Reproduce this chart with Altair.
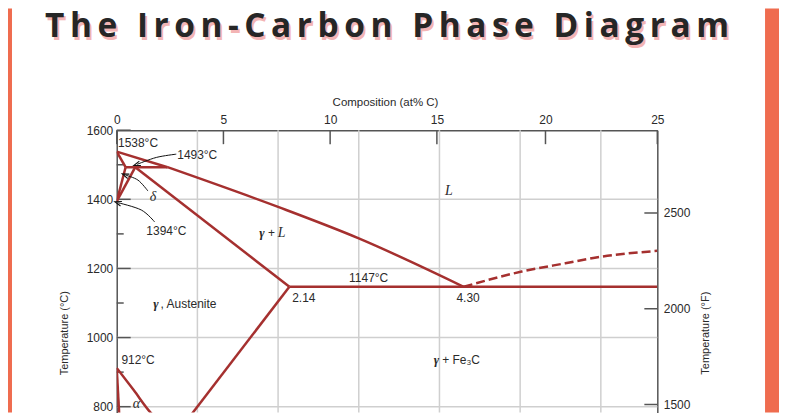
import math
import altair as alt
import pandas as pd

# ---------------- data (wt% C, temperature in deg C) ----------------
liquidus_wt = [0.63, 2.0, 3.0, 4.30]
liquidus_T = [1493, 1378, 1287, 1147]
liq_top_wt = [0.0, 0.63]
liq_top_T = [1538, 1493]
delta_liq_wt = [0.0, 0.11]
delta_liq_T = [1538, 1493]
peritectic_wt = [0.11, 0.63]
peritectic_T = [1493, 1493]
delta_low_wt = [0.0, 0.11]
delta_low_T = [1394, 1493]
gamma_up_wt = [0.0, 0.23]
gamma_up_T = [1394, 1493]
solidus_wt = [0.23, 2.14]
solidus_T = [1493, 1147]
eutectic_wt = [2.14, 6.7]
eutectic_T = [1147, 1147]
acm_wt = [0.76, 2.14]
acm_T = [727, 1147]
a3_wt = [0.0, 0.21, 0.42, 0.76]
a3_T = [912, 848, 783, 727]
alpha_wt = [0.0, 0.035]
alpha_T = [912, 760]
cem_wt = [4.30, 5.02, 5.56, 6.01, 6.7]
cem_T = [1147, 1191, 1215, 1234, 1251]

# axis tick values
T_major = [800, 1000, 1200, 1400, 1600]
T_minor = [900, 1100, 1300, 1500]
wt_grid = [1, 2, 3, 4, 5, 6]
at_labels = ["0", "5", "10", "15", "20", "25"]
at_pos_wt = [0.0, 1.3226, 2.645, 3.968, 5.314, 6.7]
F_ticks = [1500, 2000, 2500]

# annotations
num_text = ["1538°C", "1493°C", "1394°C", "1147°C", "2.14", "4.30", "912°C"]
num_wt = [0.016, 0.75, 0.367, 2.88, 2.175, 4.21, 0.058]
num_T = [1561.6, 1527.8, 1308.5, 1173.7, 1115, 1115, 934.2]

gamma_wt = [1.80, 0.487, 3.964]
gamma_T = [1301.9, 1097, 934.2]
sans_text = [", Austenite", "+ Fe\u2083C", "+"]
sans_wt = [0.544, 4.033, 1.874]
sans_T = [1097, 934.2, 1301.9]
ital_text = ["L", "L", "\u03b4", "\u03b1"]
ital_wt = [2.045, 4.116, 0.449, 0.2435]
ital_T = [1301.9, 1424, 1407.5, 806.4]

arrows = {
    "a1493": ([0.738, 0.491, 0.251], [1530.7, 1521.2, 1501.0]),
    "adelta": ([0.387, 0.263, 0.1075], [1424.0, 1455.7, 1470.1]),
    "a1394": ([0.470, 0.305, 0.016], [1334.5, 1369.1, 1390.2]),
}

TITLE = "The Iron-Carbon Phase Diagram"

# ---------------- layout ----------------
W, H = 542, 283
X_MAX = 6.7
T_TOP = 1600
T_BOT = 1600 - H * 200 / 69.3
F_TOP = 2932.3
F_BOT = F_TOP - H / 0.192

RED = "#a5302f"
AXC = "#555555"
GRID = "#cfcfcf"
TXT = "#2a2a2a"
ORANGE = "#ef6c4f"
SANS = "Liberation Sans"
SERIF = "Liberation Serif"

xs = alt.Scale(domain=[0, X_MAX], nice=False, zero=False)
ys = alt.Scale(domain=[T_BOT, T_TOP], nice=False, zero=False)

label_expr = (
    "indexof(" + str(at_pos_wt) + ", datum.value) >= 0 ? "
    + str(at_labels) + "[indexof(" + str(at_pos_wt) + ", datum.value)] : ''"
)

X_AXIS = alt.Axis(
    orient="top", values=at_pos_wt, labelExpr=label_expr, ticks=False, tickSize=0,
    grid=False, domainColor=AXC, domainWidth=1.5, labelFont=SANS, labelFontSize=12,
    labelColor=TXT, labelPadding=4, title="Composition (at% C)", titleFont=SANS,
    titleFontSize=11.5, titleFontWeight="normal", titleColor=TXT, titleX=269,
    titleY=-28, titleBaseline="middle", titleAlign="center", labelFlush=False,
)
Y_AXIS = alt.Axis(
    orient="left", values=T_major, format="d", ticks=False, tickSize=0, grid=False,
    domainColor=AXC, domainWidth=1.5, labelFont=SANS, labelFontSize=12,
    labelColor=TXT, labelPadding=4, title="Temperature (°C)", titleFont=SANS,
    titleFontSize=11, titleFontWeight="normal", titleColor=TXT, titleAngle=270,
    titleX=-52, titleY=203, titleAlign="center", titleBaseline="middle",
    labelFlush=False,
)


def X(field="wt"):
    return alt.X(f"{field}:Q", scale=xs, axis=X_AXIS)


def Y(field="T"):
    return alt.Y(f"{field}:Q", scale=ys, axis=Y_AXIS)


# grid lines
vgrid = alt.Chart(pd.DataFrame({"wt": wt_grid})).mark_rule(
    color=GRID, strokeWidth=1.5).encode(x=X(), y=alt.value(0), y2=alt.value(H))
hgrid = alt.Chart(pd.DataFrame({"T": T_major[:-1]})).mark_rule(
    color=GRID, strokeWidth=1.5).encode(y=Y(), x=alt.value(0), x2=alt.value(W))

# inward ticks
lt_major = alt.Chart(pd.DataFrame({"T": T_major})).mark_rule(
    color=AXC, strokeWidth=1.5).encode(y=Y(), x=alt.value(0), x2=alt.value(14))
lt_minor = alt.Chart(pd.DataFrame({"T": T_minor})).mark_rule(
    color=AXC, strokeWidth=1.5).encode(y=Y(), x=alt.value(0), x2=alt.value(7))
top_ticks = alt.Chart(pd.DataFrame({"wt": at_pos_wt})).mark_rule(
    color=AXC, strokeWidth=1.5).encode(x=X(), y=alt.value(0), y2=alt.value(14))

# phase boundaries (points ordered by increasing wt% for smooth curves)
segs = {
    "liq_top": (liq_top_wt, liq_top_T),
    "liquidus": (liquidus_wt, liquidus_T),
    "delta_liq": (delta_liq_wt, delta_liq_T),
    "peritectic": (peritectic_wt, peritectic_T),
    "delta_low": (delta_low_wt, delta_low_T),
    "gamma_up": (gamma_up_wt, gamma_up_T),
    "solidus": (solidus_wt, solidus_T),
    "eutectic": (eutectic_wt, eutectic_T),
    "acm": (acm_wt, acm_T),
    "a3": (a3_wt, a3_T),
    "alpha": (alpha_wt, alpha_T),
}
rows = []
for name, (ws, ts) in segs.items():
    for i, (w, t) in enumerate(zip(ws, ts)):
        rows.append({"seg": name, "wt": w, "T": t, "o": i})
seg_df = pd.DataFrame(rows)
lines = alt.Chart(seg_df).mark_line(
    color=RED, strokeWidth=2.5, clip=True, interpolate="monotone").encode(
    x=X(), y=Y(), detail="seg:N", order="o:Q")

cem_df = pd.DataFrame({"wt": cem_wt, "T": cem_T, "o": range(len(cem_wt))})
dashed = alt.Chart(cem_df).mark_line(
    color=RED, strokeWidth=2.5, strokeDash=[9, 4], interpolate="monotone",
    clip=True).encode(x=X(), y=Y(), order="o:Q")

# arrows


def to_px(w, t):
    return (w / X_MAX * W, (T_TOP - t) / (T_TOP - T_BOT) * H)


arow, hrow = [], []
for name, (ws, ts) in arrows.items():
    for i, (w, t) in enumerate(zip(ws, ts)):
        arow.append({"a": name, "wt": w, "T": t, "o": i})
    p1 = to_px(ws[-2], ts[-2])
    p2 = to_px(ws[-1], ts[-1])
    ang = math.degrees(math.atan2(p2[0] - p1[0], -(p2[1] - p1[1]))) % 360
    hrow.append({"wt": ws[-1], "T": ts[-1], "ang": ang})
arrow_lines = alt.Chart(pd.DataFrame(arow)).mark_line(
    color="#111", strokeWidth=1, interpolate="cardinal").encode(
    x=X(), y=Y(), detail="a:N", order="o:Q")
arrow_heads = alt.Chart(pd.DataFrame(hrow)).mark_point(
    shape="M -0.7 1 L 0 -1 L 0.7 1", filled=False, color="#111",
    strokeWidth=1.1, size=45, opacity=1).encode(
    x=X(), y=Y(), angle=alt.Angle("ang:Q", scale=None))

# labels
num_lab = alt.Chart(pd.DataFrame({"wt": num_wt, "T": num_T, "t": num_text})).mark_text(
    align="left", baseline="middle", font=SANS, fontSize=12, color=TXT).encode(
    x=X(), y=Y(), text="t:N")
gam_lab = alt.Chart(pd.DataFrame({"wt": gamma_wt, "T": gamma_T, "t": ["\u03b3"] * 3})).mark_text(
    align="center", baseline="middle", font=SERIF, fontSize=13,
    fontWeight="bold", fontStyle="italic", color=TXT).encode(x=X(), y=Y(), text="t:N")
sans_lab = alt.Chart(pd.DataFrame({"wt": sans_wt, "T": sans_T, "t": sans_text})).mark_text(
    align="left", baseline="middle", font=SANS, fontSize=12, color=TXT).encode(
    x=X(), y=Y(), text="t:N")
ital_lab = alt.Chart(pd.DataFrame({"wt": ital_wt, "T": ital_T, "t": ital_text})).mark_text(
    align="center", baseline="middle", font=SERIF, fontSize=14, fontStyle="italic",
    color=TXT).encode(x=X(), y=Y(), text="t:N")

# title with shadow
spaced = "\u2009".join(list(TITLE))
one = pd.DataFrame({"t": [spaced]})
title_shadow = alt.Chart(one).mark_text(
    align="center", baseline="alphabetic", font="Open Sans", fontSize=33.5,
    fontWeight="bold", color="#f3b4b4").encode(
    x=alt.value(273), y=alt.value(-90), text="t:N")
title_main = alt.Chart(one).mark_text(
    align="center", baseline="alphabetic", font="Open Sans", fontSize=33.5,
    fontWeight="bold", color="#262626").encode(
    x=alt.value(271), y=alt.value(-93), text="t:N")

# orange side bars
dummy = pd.DataFrame({"k": [0]})
bar_l = alt.Chart(dummy).mark_rect(color=ORANGE).encode(
    x=alt.value(-109), x2=alt.value(-105), y=alt.value(-122), y2=alt.value(H))
bar_r = alt.Chart(dummy).mark_rect(color=ORANGE).encode(
    x=alt.value(650), x2=alt.value(664), y=alt.value(-122), y2=alt.value(H))

main = alt.layer(
    vgrid, hgrid, lt_major, lt_minor, top_ticks, lines, dashed,
    arrow_lines, arrow_heads, num_lab, gam_lab, sans_lab, ital_lab,
    title_shadow, title_main, bar_l, bar_r,
)

# right axis in deg F
f_layer = alt.Chart(pd.DataFrame({"F": F_ticks})).mark_rule(
    color=AXC, strokeWidth=1.5).encode(
    y=alt.Y("F:Q", scale=alt.Scale(domain=[F_BOT, F_TOP], nice=False, zero=False),
            axis=alt.Axis(orient="right", values=F_ticks, format="d", ticks=False,
                          tickSize=0, grid=False, domainColor=AXC, domainWidth=1.5,
                          labelFont=SANS, labelFontSize=12, labelColor=TXT,
                          labelPadding=6, labelFlush=False,
                          title="Temperature (°F)", titleFont=SANS,
                          titleFontSize=11, titleFontWeight="normal",
                          titleColor=TXT, titleAngle=270, titleX=48.7,
                          titleY=203, titleAlign="center",
                          titleBaseline="middle")),
    x=alt.value(W - 13), x2=alt.value(W))

chart = alt.layer(main, f_layer).resolve_scale(y="independent").properties(
    width=W, height=H,
    padding={"left": 109, "top": 122, "right": 122, "bottom": 0},
    autosize=alt.AutoSizeParams(type="none"),
    background="white",
).configure_view(strokeWidth=0)

chart.save("out.html", embed_options={"renderer": "svg", "actions": False})
